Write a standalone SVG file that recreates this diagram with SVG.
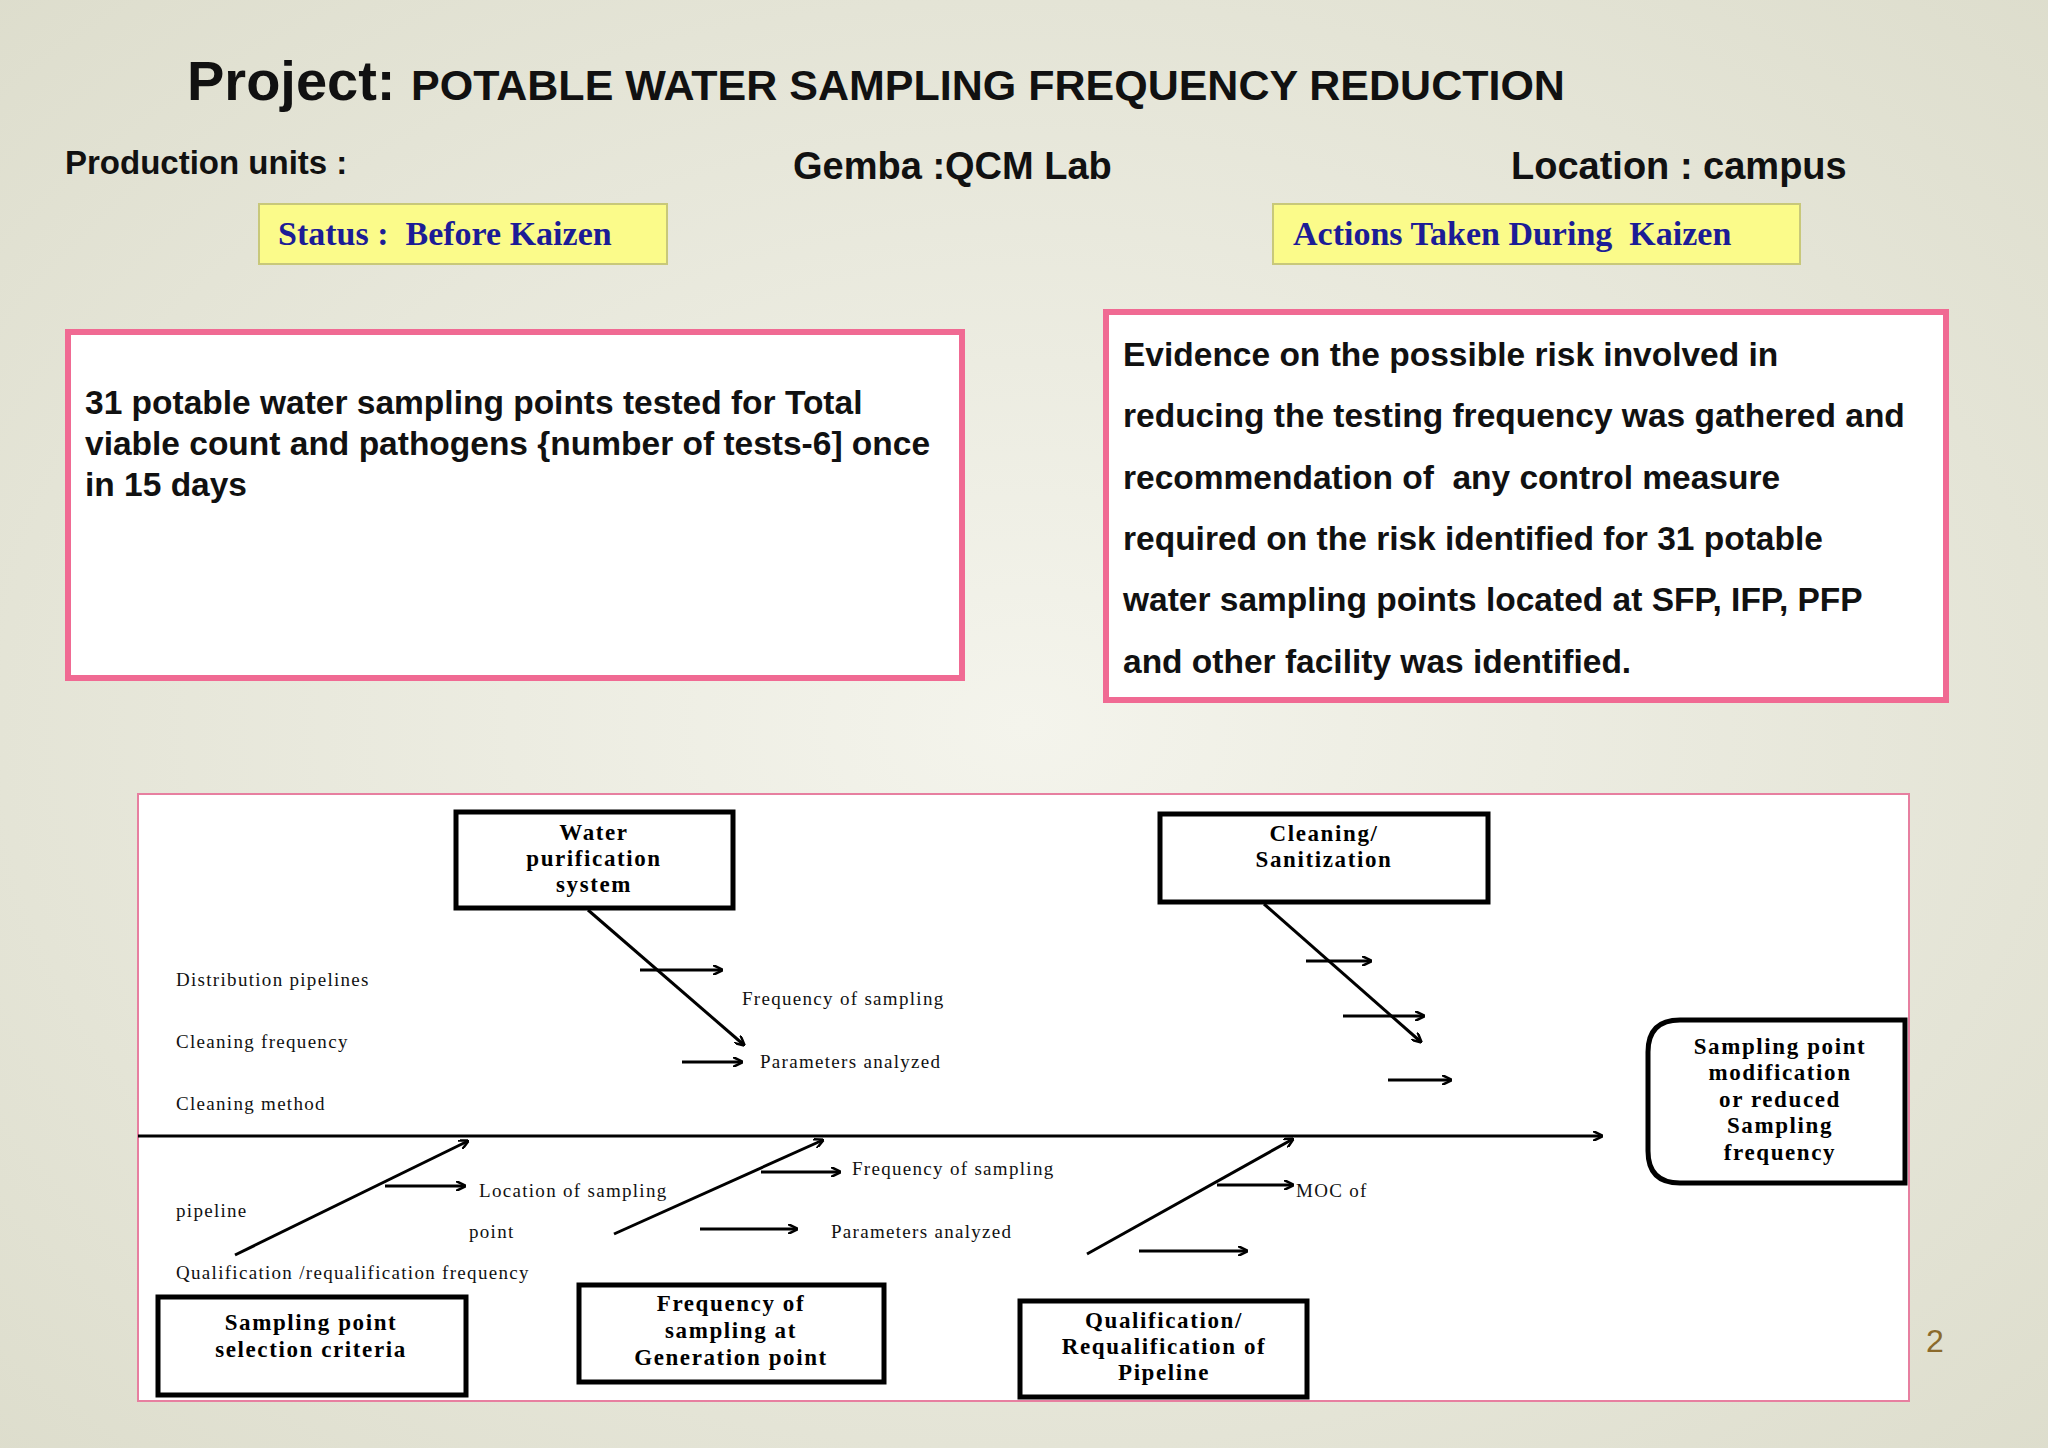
<svg xmlns="http://www.w3.org/2000/svg" width="2048" height="1448" viewBox="0 0 2048 1448">
<defs>
<radialGradient id="bg" cx="50%" cy="50%" r="75%"><stop offset="0" stop-color="#f4f4ec"/><stop offset="1" stop-color="#dcdccb"/></radialGradient>
<marker id="ah" markerWidth="10" markerHeight="10" refX="9" refY="5" orient="auto" markerUnits="userSpaceOnUse"><path d="M0,0 L10,5 L0,10" fill="none" stroke="#000" stroke-width="2.5"/></marker>
</defs>
<style>
text{white-space:pre}
.sans{font-family:"Liberation Sans",Arial,sans-serif;font-weight:bold;fill:#111}
.ser{font-family:"Liberation Serif","Times New Roman",serif;fill:#111;font-size:19px;letter-spacing:1.3px}
.bx{fill:#fff;stroke:#000;stroke-width:5}
.bt{font-family:"Liberation Serif","Times New Roman",serif;font-weight:bold;font-size:23px;letter-spacing:1.6px;text-anchor:middle;fill:#000}
.ln{stroke:#000;stroke-width:3;fill:none}
.ar{stroke:#000;stroke-width:3;fill:none;marker-end:url(#ah)}
.yb{fill:#fbfb8a;stroke:#c8c87a;stroke-width:2}
.yt{font-family:"Liberation Serif","Times New Roman",serif;font-weight:bold;font-size:34px;fill:#1c1c96}
.pk{fill:#fff;stroke:#f06a93;stroke-width:6}
</style>
<rect width="2048" height="1448" fill="url(#bg)"/>
<g id="header">
<text x="187" y="100" class="sans" font-size="56">Project: <tspan font-size="43">POTABLE WATER SAMPLING FREQUENCY REDUCTION</tspan></text>
<text x="65" y="174" class="sans" font-size="33">Production units :</text>
<text x="793" y="179" class="sans" font-size="38">Gemba :QCM Lab</text>
<text x="1511" y="179" class="sans" font-size="38">Location : campus</text>
</g>
<g id="status"><rect x="259" y="204" width="408" height="60" class="yb"/><text x="278" y="245" class="yt">Status :  Before Kaizen</text></g>
<g id="actions"><rect x="1273" y="204" width="527" height="60" class="yb"/><text x="1293" y="245" class="yt">Actions Taken During  Kaizen</text></g>
<g id="before">
<rect x="68" y="332" width="894" height="346" class="pk"/>
<text class="sans" font-size="33.5"><tspan x="85" y="414">31 potable water sampling points tested for Total</tspan><tspan x="85" y="455">viable count and pathogens {number of tests-6] once</tspan><tspan x="85" y="496">in 15 days</tspan></text>
</g>
<g id="during">
<rect x="1106" y="312" width="840" height="388" class="pk"/>
<text class="sans" font-size="33.5"><tspan x="1123" y="366">Evidence on the possible risk involved in</tspan><tspan x="1123" y="427">reducing the testing frequency was gathered and</tspan><tspan x="1123" y="489">recommendation of  any control measure</tspan><tspan x="1123" y="550">required on the risk identified for 31 potable</tspan><tspan x="1123" y="611">water sampling points located at SFP, IFP, PFP</tspan><tspan x="1123" y="673">and other facility was identified.</tspan></text>
</g>
<rect x="138" y="794" width="1771" height="607" fill="#fff" stroke="#e77fa0" stroke-width="2"/>
<g id="connectors">
<line x1="138" y1="1136" x2="1602" y2="1136" class="ar"/>
<line x1="588" y1="910" x2="744" y2="1045" class="ar"/>
<line x1="640" y1="970" x2="722" y2="970" class="ar"/>
<line x1="682" y1="1062" x2="742" y2="1062" class="ar"/>
<line x1="1264" y1="904" x2="1421" y2="1042" class="ar" stroke-width="2"/>
<line x1="1306" y1="961" x2="1371" y2="961" class="ar"/>
<line x1="1343" y1="1016" x2="1424" y2="1016" class="ar"/>
<line x1="1388" y1="1080" x2="1451" y2="1080" class="ar"/>
<line x1="235" y1="1255" x2="468" y2="1141" class="ar"/>
<line x1="385" y1="1186" x2="465" y2="1186" class="ar"/>
<line x1="614" y1="1234" x2="823" y2="1140" class="ar"/>
<line x1="761" y1="1172" x2="840" y2="1172" class="ar"/>
<line x1="700" y1="1229" x2="797" y2="1229" class="ar" stroke-width="2"/>
<line x1="1087" y1="1254" x2="1293" y2="1139" class="ar" stroke-width="1.5"/>
<line x1="1217" y1="1185" x2="1293" y2="1185" class="ar"/>
<line x1="1139" y1="1251" x2="1247" y2="1251" class="ar"/>
</g>
<g id="labels">
<text x="176" y="986" class="ser">Distribution pipelines</text>
<text x="176" y="1048" class="ser">Cleaning frequency</text>
<text x="176" y="1110" class="ser">Cleaning method</text>
<text x="742" y="1005" class="ser">Frequency of sampling</text>
<text x="760" y="1068" class="ser">Parameters analyzed</text>
<text x="176" y="1217" class="ser">pipeline</text>
<text x="479" y="1197" class="ser" font-size="21">Location of sampling</text>
<text x="469" y="1238" class="ser" font-size="21">point</text>
<text x="176" y="1279" class="ser">Qualification /requalification frequency</text>
<text x="852" y="1175" class="ser">Frequency of sampling</text>
<text x="831" y="1238" class="ser">Parameters analyzed</text>
<text x="1296" y="1197" class="ser">MOC of</text>
</g>
<g id="water"><rect x="456" y="812" width="277" height="96" class="bx"/><text class="bt"><tspan x="594" y="840">Water</tspan><tspan x="594" y="866">purification</tspan><tspan x="594" y="892">system</tspan></text></g>
<g id="cleaning"><rect x="1160" y="814" width="328" height="88" class="bx"/><text class="bt"><tspan x="1324" y="841">Cleaning/</tspan><tspan x="1324" y="867">Sanitization</tspan></text></g>
<g id="effect"><path d="M1680,1020 H1905 V1183 H1680 Q1648,1183 1648,1151 V1052 Q1648,1020 1680,1020 Z" class="bx"/><text class="bt"><tspan x="1780" y="1054">Sampling point</tspan><tspan x="1780" y="1080">modification</tspan><tspan x="1780" y="1107">or reduced</tspan><tspan x="1780" y="1133">Sampling</tspan><tspan x="1780" y="1160">frequency</tspan></text></g>
<g id="sampling"><rect x="158" y="1297" width="308" height="98" class="bx"/><text class="bt"><tspan x="311" y="1330">Sampling point</tspan><tspan x="311" y="1357">selection criteria</tspan></text></g>
<g id="generation"><rect x="579" y="1285" width="305" height="97" class="bx"/><text class="bt"><tspan x="731" y="1311">Frequency of</tspan><tspan x="731" y="1338">sampling at</tspan><tspan x="731" y="1365">Generation point</tspan></text></g>
<g id="pipeline"><rect x="1020" y="1301" width="287" height="96" class="bx"/><text class="bt"><tspan x="1164" y="1328">Qualification/</tspan><tspan x="1164" y="1354">Requalification of</tspan><tspan x="1164" y="1380">Pipeline</tspan></text></g>
<text x="1926" y="1352" font-family="Liberation Sans,Arial,sans-serif" font-size="32" fill="#8b6a2c">2</text>
</svg>
